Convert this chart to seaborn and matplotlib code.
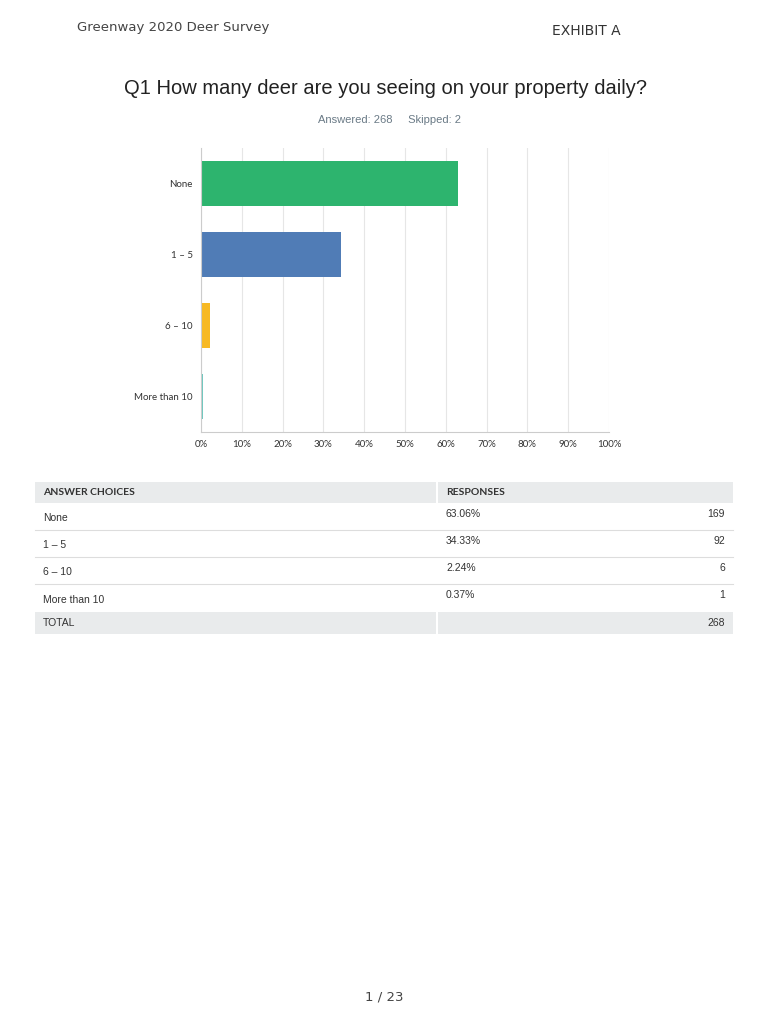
import matplotlib
matplotlib.use("Agg")
import matplotlib.pyplot as plt
import seaborn as sns
import pandas as pd
from matplotlib.patches import Rectangle

categories = ["None", "1 – 5", "6 – 10", "More than 10"]
table_labels = ["None", "1 – 5", "6 – 10", "More than 10"]
percents = [63.06, 34.33, 2.24, 0.37]
counts = [169, 92, 6, 1]
total = 268
skipped = 2
colors = ["#2DB46E", "#507CB6", "#F7B924", "#6DC8BF"]
xticks = [0, 10, 20, 30, 40, 50, 60, 70, 80, 90, 100]

W, H = 768, 1024
fig = plt.figure(figsize=(7.68, 10.24), dpi=100)
fig.patch.set_facecolor("white")

def fx(x): return x / W
def fy(y): return 1 - y / H

fig.text(fx(77), fy(27), "Greenway 2020 Deer Survey", fontsize=9.5, color="#444", va="center", family="DejaVu Sans")
fig.text(fx(552), fy(31), "EXHIBIT A", fontsize=10, color="#333", va="center", family="DejaVu Sans")
fig.text(fx(386), fy(88), "Q1 How many deer are you seeing on your property daily?", fontsize=14.5,
         color="#222", ha="center", va="center", family="Liberation Sans")
fig.text(fx(390), fy(120), f"Answered: {total}     Skipped: {skipped}", fontsize=8, color="#6a7a86",
         ha="center", va="center", family="Liberation Sans")

ax = fig.add_axes([fx(201), fy(432), (609 - 201) / W, (432 - 148) / H])
df = pd.DataFrame({"cat": categories, "pct": percents})
sns.barplot(data=df, x="pct", y="cat", hue="cat", palette=colors, ax=ax, width=0.63,
            legend=False, saturation=1)
ax.set_xlim(0, 100)
ax.set_xticks(xticks)
ax.set_xticklabels([f"{t}%" for t in xticks], fontsize=7, color="#333", family="Lato")
ax.set_yticks(range(len(categories)))
ax.set_yticklabels(categories, fontsize=7, color="#333", family="Lato")
ax.set_xlabel(""); ax.set_ylabel("")
ax.grid(axis="x", color="#e6e6e6", lw=0.8)
ax.set_axisbelow(True)
for s in ["top", "right"]:
    ax.spines[s].set_visible(False)
ax.spines["left"].set_color("#ccc")
ax.spines["bottom"].set_color("#ccc")
ax.tick_params(length=0, pad=6)

# table
def rect(x0, y0, x1, y1, c):
    fig.add_artist(Rectangle((fx(x0), fy(y1)), fx(x1 - x0), (y1 - y0) / H, color=c, transform=fig.transFigure, lw=0))

gray = "#E9EBEC"
rect(35, 482, 436, 503, gray); rect(438, 482, 733, 503, gray)
rect(35, 612, 436, 634, gray); rect(438, 612, 733, 634, gray)
fig.text(fx(43), fy(492.5), "ANSWER CHOICES", fontsize=7.5, weight="bold", color="#333", va="center", family="Lato")
fig.text(fx(446), fy(492.5), "RESPONSES", fontsize=7.5, weight="bold", color="#333", va="center", family="Lato")
rows_y = [503, 530, 557, 584, 612]
for i, (lab, p, c) in enumerate(zip(table_labels, percents, counts)):
    y0, y1 = rows_y[i], rows_y[i + 1]
    fig.text(fx(43), fy(y1 - 12), lab, fontsize=7.5, color="#333", va="center", family="Liberation Sans")
    fig.text(fx(446), fy(y0 + 11), f"{p:.2f}%", fontsize=7.5, color="#333", va="center", family="Liberation Sans")
    fig.text(fx(725), fy(y0 + 11), str(c), fontsize=7.5, color="#333", va="center", ha="right", family="Liberation Sans")
    if i < 3:
        fig.add_artist(plt.Line2D([fx(35), fx(733)], [fy(y1), fy(y1)], color="#ddd", lw=0.8, transform=fig.transFigure))
fig.text(fx(43), fy(623), "TOTAL", fontsize=7.5, color="#333", va="center", family="Liberation Sans")
fig.text(fx(725), fy(623), str(total), fontsize=7.5, color="#333", va="center", ha="right", family="Liberation Sans")

fig.text(fx(384), fy(997), "1 / 23", fontsize=9.5, color="#444", ha="center", va="center", family="DejaVu Sans")

fig.savefig("out.png", dpi=100)
